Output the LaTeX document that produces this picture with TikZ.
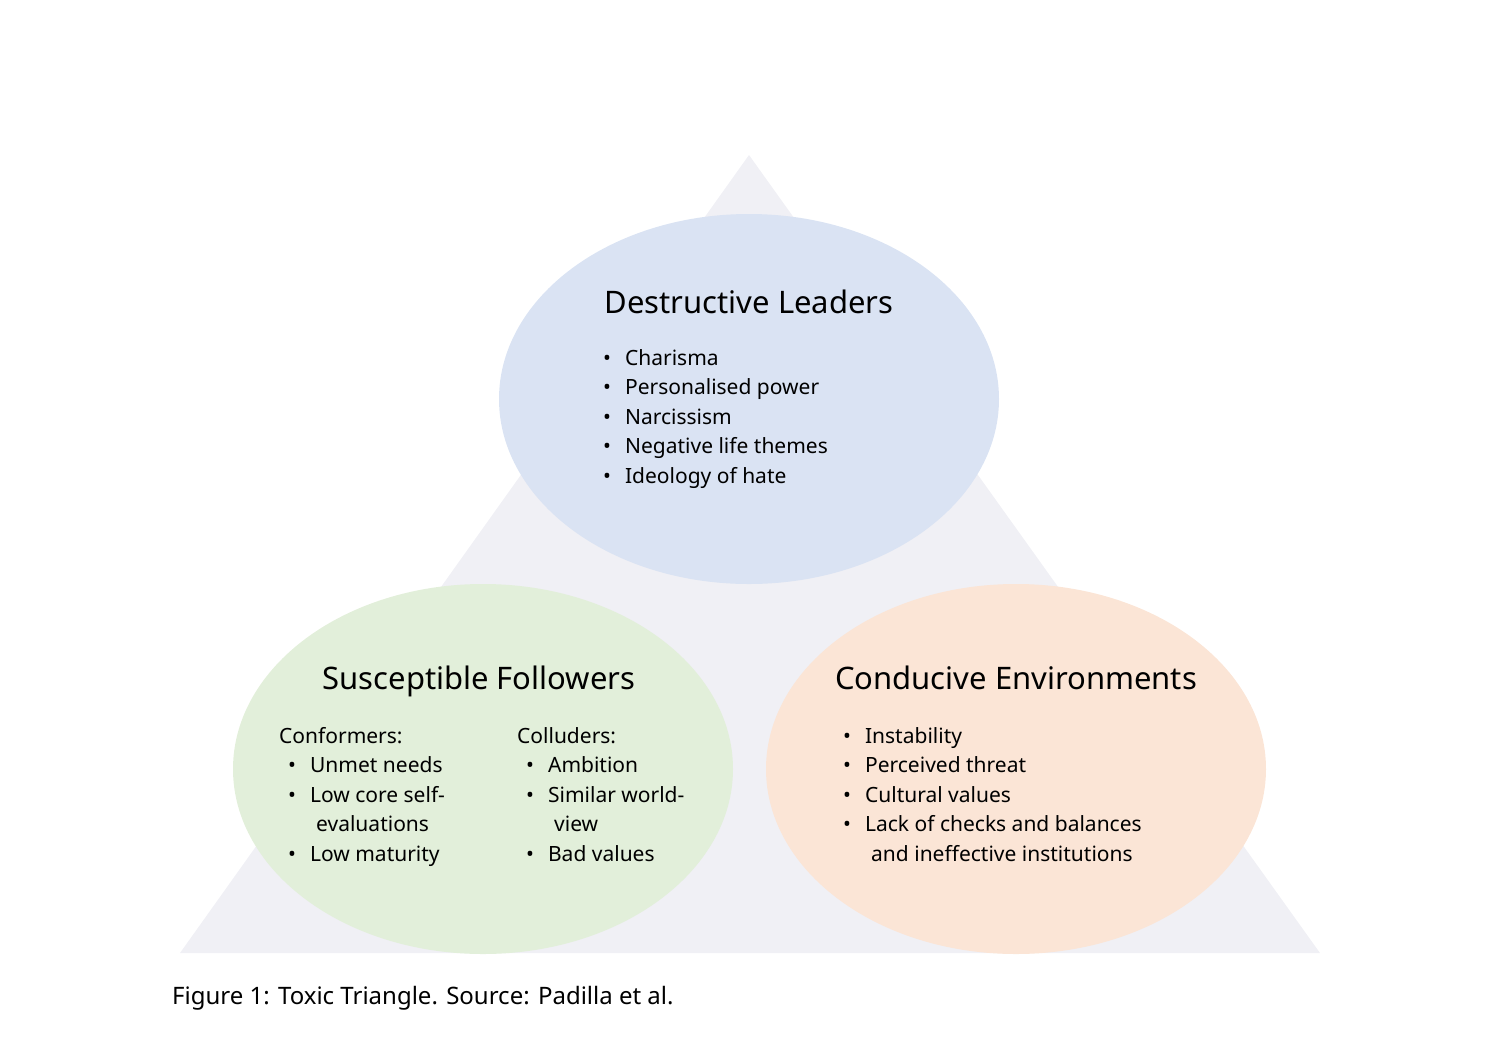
\documentclass[tikz,border=0pt]{standalone}
\usepackage{fontspec}
\setmainfont{Noto Sans}
\definecolor{tri}{HTML}{F0F0F5}
\definecolor{lead}{HTML}{DAE3F3}
\definecolor{foll}{HTML}{E2EFDA}
\definecolor{env}{HTML}{FBE5D6}
\begin{document}
\begin{tikzpicture}[x=1pt,y=-1pt,
  head/.style={font=\fontsize{31}{36}\selectfont\bfseries,anchor=base},
  item/.style={font=\fontsize{21}{25}\selectfont,anchor=base west,inner sep=0pt},
  blob/.style={ellipse,minimum width=500pt,minimum height=370pt,inner sep=0pt}]
\useasboundingbox (0,0) rectangle (1500,1061);
\fill[tri] (749,155) -- (1320,953) -- (180,953) -- cycle;
\fill[lead] (749,399) ellipse [x radius=250, y radius=185];
\fill[foll] (483,769) ellipse [x radius=250, y radius=185];
\fill[env] (1016,769) ellipse [x radius=250, y radius=185];
\node[head] (h1) at (749,313) {Destructive Leaders};
\node[head] (h2) at (479,689) {Susceptible Followers};
\node[head] (h3) at (1016,689) {Conducive Environments};
\foreach \t [count=\i] in {Charisma,Personalised power,Narcissism,Negative life themes,Ideology of hate}{
  \node[item] (l\i) at (603,{365+(\i-1)*29.6}) {\textbullet\hspace{14pt}\t};}
\node[item] (cf) at (279,743) {Conformers:};
\node[item] (c1) at (288,772) {\textbullet\hspace{14pt}Unmet needs};
\node[item] (c2) at (288,802) {\textbullet\hspace{14pt}Low core self-};
\node[item] (c3) at (316,831) {evaluations};
\node[item] (c4) at (288,861) {\textbullet\hspace{14pt}Low maturity};
\node[item] (cl) at (517,743) {Colluders:};
\node[item] (d1) at (526,772) {\textbullet\hspace{14pt}Ambition};
\node[item] (d2) at (526,802) {\textbullet\hspace{14pt}Similar world-};
\node[item] (d3) at (554,831) {view};
\node[item] (d4) at (526,861) {\textbullet\hspace{14pt}Bad values};
\node[item] (e1) at (843,743) {\textbullet\hspace{14pt}Instability};
\node[item] (e2) at (843,772) {\textbullet\hspace{14pt}Perceived threat};
\node[item] (e3) at (843,802) {\textbullet\hspace{14pt}Cultural values};
\node[item] (e4) at (843,831) {\textbullet\hspace{14pt}Lack of checks and balances};
\node[item] (e5) at (871,861) {and ineffective institutions};
\node[item,font=\fontsize{24}{28}\selectfont] (cap) at (172,1004) {\textbf{Figure 1:} Toxic Triangle. Source: Padilla et al.};
\end{tikzpicture}
\end{document}
